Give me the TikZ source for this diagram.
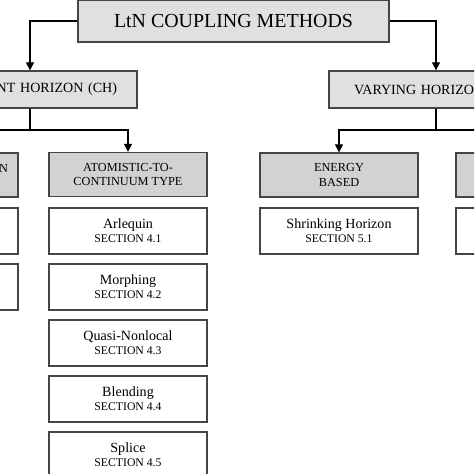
\documentclass[tikz,border=0pt]{standalone}
\usepackage{fontspec}
\setmainfont{Liberation Serif}
\usepackage{tikz}
\usetikzlibrary{arrows.meta}
\definecolor{boxline}{HTML}{454545}
\definecolor{rootfill}{HTML}{E0E0E0}
\definecolor{typefill}{HTML}{D2D2D2}
\newcommand{\sectag}[1]{{\fontsize{10}{12}\selectfont SECTION #1}}
\tikzset{
  basebox/.style={rectangle, draw=boxline, line width=1.1pt, align=center},
  rootbox/.style={basebox, fill=rootfill, minimum width=9.33cm, minimum height=1.26cm,
    font=\fontsize{17}{20}\selectfont},
  horizonbox/.style={basebox, fill=rootfill, minimum height=1.11cm,
    font=\fontsize{12}{14}\selectfont},
  typebox/.style={basebox, fill=typefill, minimum width=4.74cm, minimum height=1.32cm,
    font=\fontsize{10.5}{12}\selectfont},
  methodbox/.style={basebox, fill=white, minimum width=4.74cm, minimum height=1.38cm,
    font=\fontsize{12}{12}\selectfont},
  treeedge/.style={draw=black, line width=0.9pt},
  treearrow/.style={treeedge, -{Triangle[length=2.4mm, width=2.4mm]}},
}
\begin{document}
\begin{tikzpicture}[x=0.03cm, y=-0.03cm]
  \clip (0,0) rectangle (474,474);
  % root and horizon level
  \node[rootbox] (root) at (233.5,21) {LtN COUPLING METHODS};
  \node[horizonbox, text width=5.22cm, inner xsep=0.6cm, align=right] (ch) at (30,89.5) {NT HORIZON (CH)};
  \node[horizonbox, text width=4.92cm, inner xsep=0.75cm, align=left] (vh) at (436,89.5) {VARYING HORIZO};
  % type level
  \node[typebox, text width=4.14cm, inner xsep=0.3cm, align=right] (ddtype) at (-61,175) {N\\\mbox{}};
  \node[typebox] (atc) at (128,174.5) {ATOMISTIC-TO-\\CONTINUUM TYPE};
  \node[typebox] (energy) at (339,175) {ENERGY\\BASED};
  \node[typebox] (force) at (535,175) {};
  % methods
  \node[methodbox] (dd1) at (-61,231) {};
  \node[methodbox] (dd2) at (-61,287) {};
  \node[methodbox] (arlequin) at (128,231) {Arlequin\\\sectag{4.1}};
  \node[methodbox] (morphing) at (128,287) {Morphing\\\sectag{4.2}};
  \node[methodbox] (quasi) at (128,343) {Quasi-Nonlocal\\\sectag{4.3}};
  \node[methodbox] (blending) at (128,399) {Blending\\\sectag{4.4}};
  \node[methodbox] (splice) at (128,455) {Splice\\\sectag{4.5}};
  \node[methodbox] (shrinking) at (339,231) {Shrinking Horizon\\\sectag{5.1}};
  \node[methodbox] (force1) at (535,231) {};
  % connectors
  \coordinate (chsplit) at (30,130);
  \coordinate (vhsplit) at (436,130);
  \draw[treearrow] (root.west) -| (ch.north);
  \draw[treearrow] (root.east) -| (vh.north);
  \draw[treeedge] (ch.south) -- (chsplit);
  \draw[treearrow] (chsplit) -| (ddtype.north);
  \draw[treearrow] (chsplit) -| (atc.north);
  \draw[treeedge] (vh.south) -- (vhsplit);
  \draw[treearrow] (vhsplit) -| (energy.north);
  \draw[treearrow] (vhsplit) -| (force.north);
\end{tikzpicture}
\end{document}
